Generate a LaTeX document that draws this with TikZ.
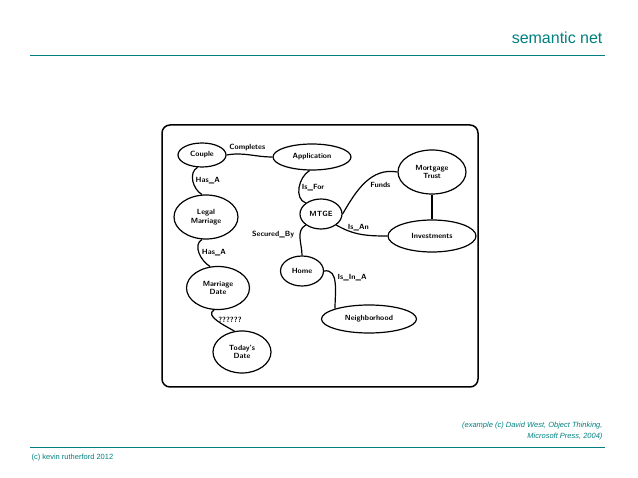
\documentclass[tikz,border=0pt]{standalone}
\usepackage{fontspec}
\setmainfont{Liberation Sans}
\usetikzlibrary{positioning,calc,shapes.geometric}
\definecolor{teal}{RGB}{0,128,128}
\tikzset{
  concept/.style={ellipse,draw,line width=1.2pt,inner sep=0pt,font=\fontsize{7.5}{8.5}\selectfont\bfseries\sffamily,align=center},
  rel/.style={line width=1.2pt},
  lbl/.style={font=\fontsize{7.5}{8.5}\selectfont\bfseries\sffamily}
}
\begin{document}
\begin{tikzpicture}[x=1pt,y=-1pt]
    \useasboundingbox (0,0) rectangle (638,478);
    % header and footer
    \node[anchor=east,text=teal,font=\fontsize{16}{18}\selectfont] (title) at (606,38) {semantic net};
    \draw[teal,line width=0.8pt] (30,55) -- (605,55);
    \draw[teal,line width=0.8pt] (30,447) -- (605,447);
    \node[anchor=east,align=right,text=teal,font=\fontsize{7.5}{11}\selectfont\itshape] (src) at (606,431)
      {(example (c) David West, Object Thinking,\\Microsoft Press, 2004)};
    \node[anchor=west,text=teal,font=\fontsize{7.5}{9}\selectfont] (copy) at (28,458) {(c) kevin rutherford 2012};

    % frame
    \draw[line width=1.5pt,rounded corners=8pt] (162,125) rectangle (478,387);

    % concepts
    \node[concept,minimum width=48,minimum height=24] (couple) at (202,155) {Couple};
    \node[concept,minimum width=78,minimum height=26] (appl) at (312,157) {Application};
    \node[concept,minimum width=68,minimum height=44] (trust) at (432,172) {Mortgage\\Trust};
    \node[concept,minimum width=64,minimum height=44] (legal) at (206,217) {Legal\\Marriage};
    \node[concept,minimum width=42,minimum height=30] (mtge) at (321,214) {MTGE};
    \node[concept,minimum width=88,minimum height=32] (invest) at (432,236) {Investments};
    \node[concept,minimum width=43,minimum height=30] (home) at (302,271) {Home};
    \node[concept,minimum width=63,minimum height=43] (mdate) at (218,288) {Marriage\\Date};
    \node[concept,minimum width=95,minimum height=28] (hood) at (369,319) {Neighborhood};
    \node[concept,minimum width=58,minimum height=42] (today) at (242,352) {Today's\\Date};

    % relations
    \draw[rel] (couple.east) to[out=10,in=180] node[lbl,above,pos=0.45] {Completes} (appl.west);
    \draw[rel] (couple.-110) to[out=-150,in=150] node[lbl,right=-1pt] {Has\_A} (legal.100);
    \draw[rel] (legal.-100) to[out=-150,in=150] node[lbl,right=-1pt] {Has\_A} (mdate.110);
    \draw[rel] (mdate.-100) to[out=-150,in=150] node[lbl,right=-1pt,pos=0.45] {??????} (today.110);
    \draw[rel] (appl.-100) to[out=-150,in=160] node[lbl,right=-1pt] {Is\_For} (mtge.north west);
    \draw[rel] (mtge.east) to[out=60,in=170] node[lbl,below right=-2pt,pos=0.55] {Funds} (trust.west);
    \draw[rel] (mtge.south east) to[out=-30,in=180] node[lbl,above=-1pt,pos=0.45] {Is\_An} (invest.west);
    \draw[rel] (trust.south) -- (invest.north);
    \draw[rel] (mtge.south west) to[out=-150,in=90] node[lbl,left=2pt,pos=0.4] {Secured\_By} (home.north);
    \draw[rel] (home.east) to[out=10,in=90] node[lbl,above right=-2pt,pos=0.5] {Is\_In\_A} (hood.north west);
\end{tikzpicture}
\end{document}
